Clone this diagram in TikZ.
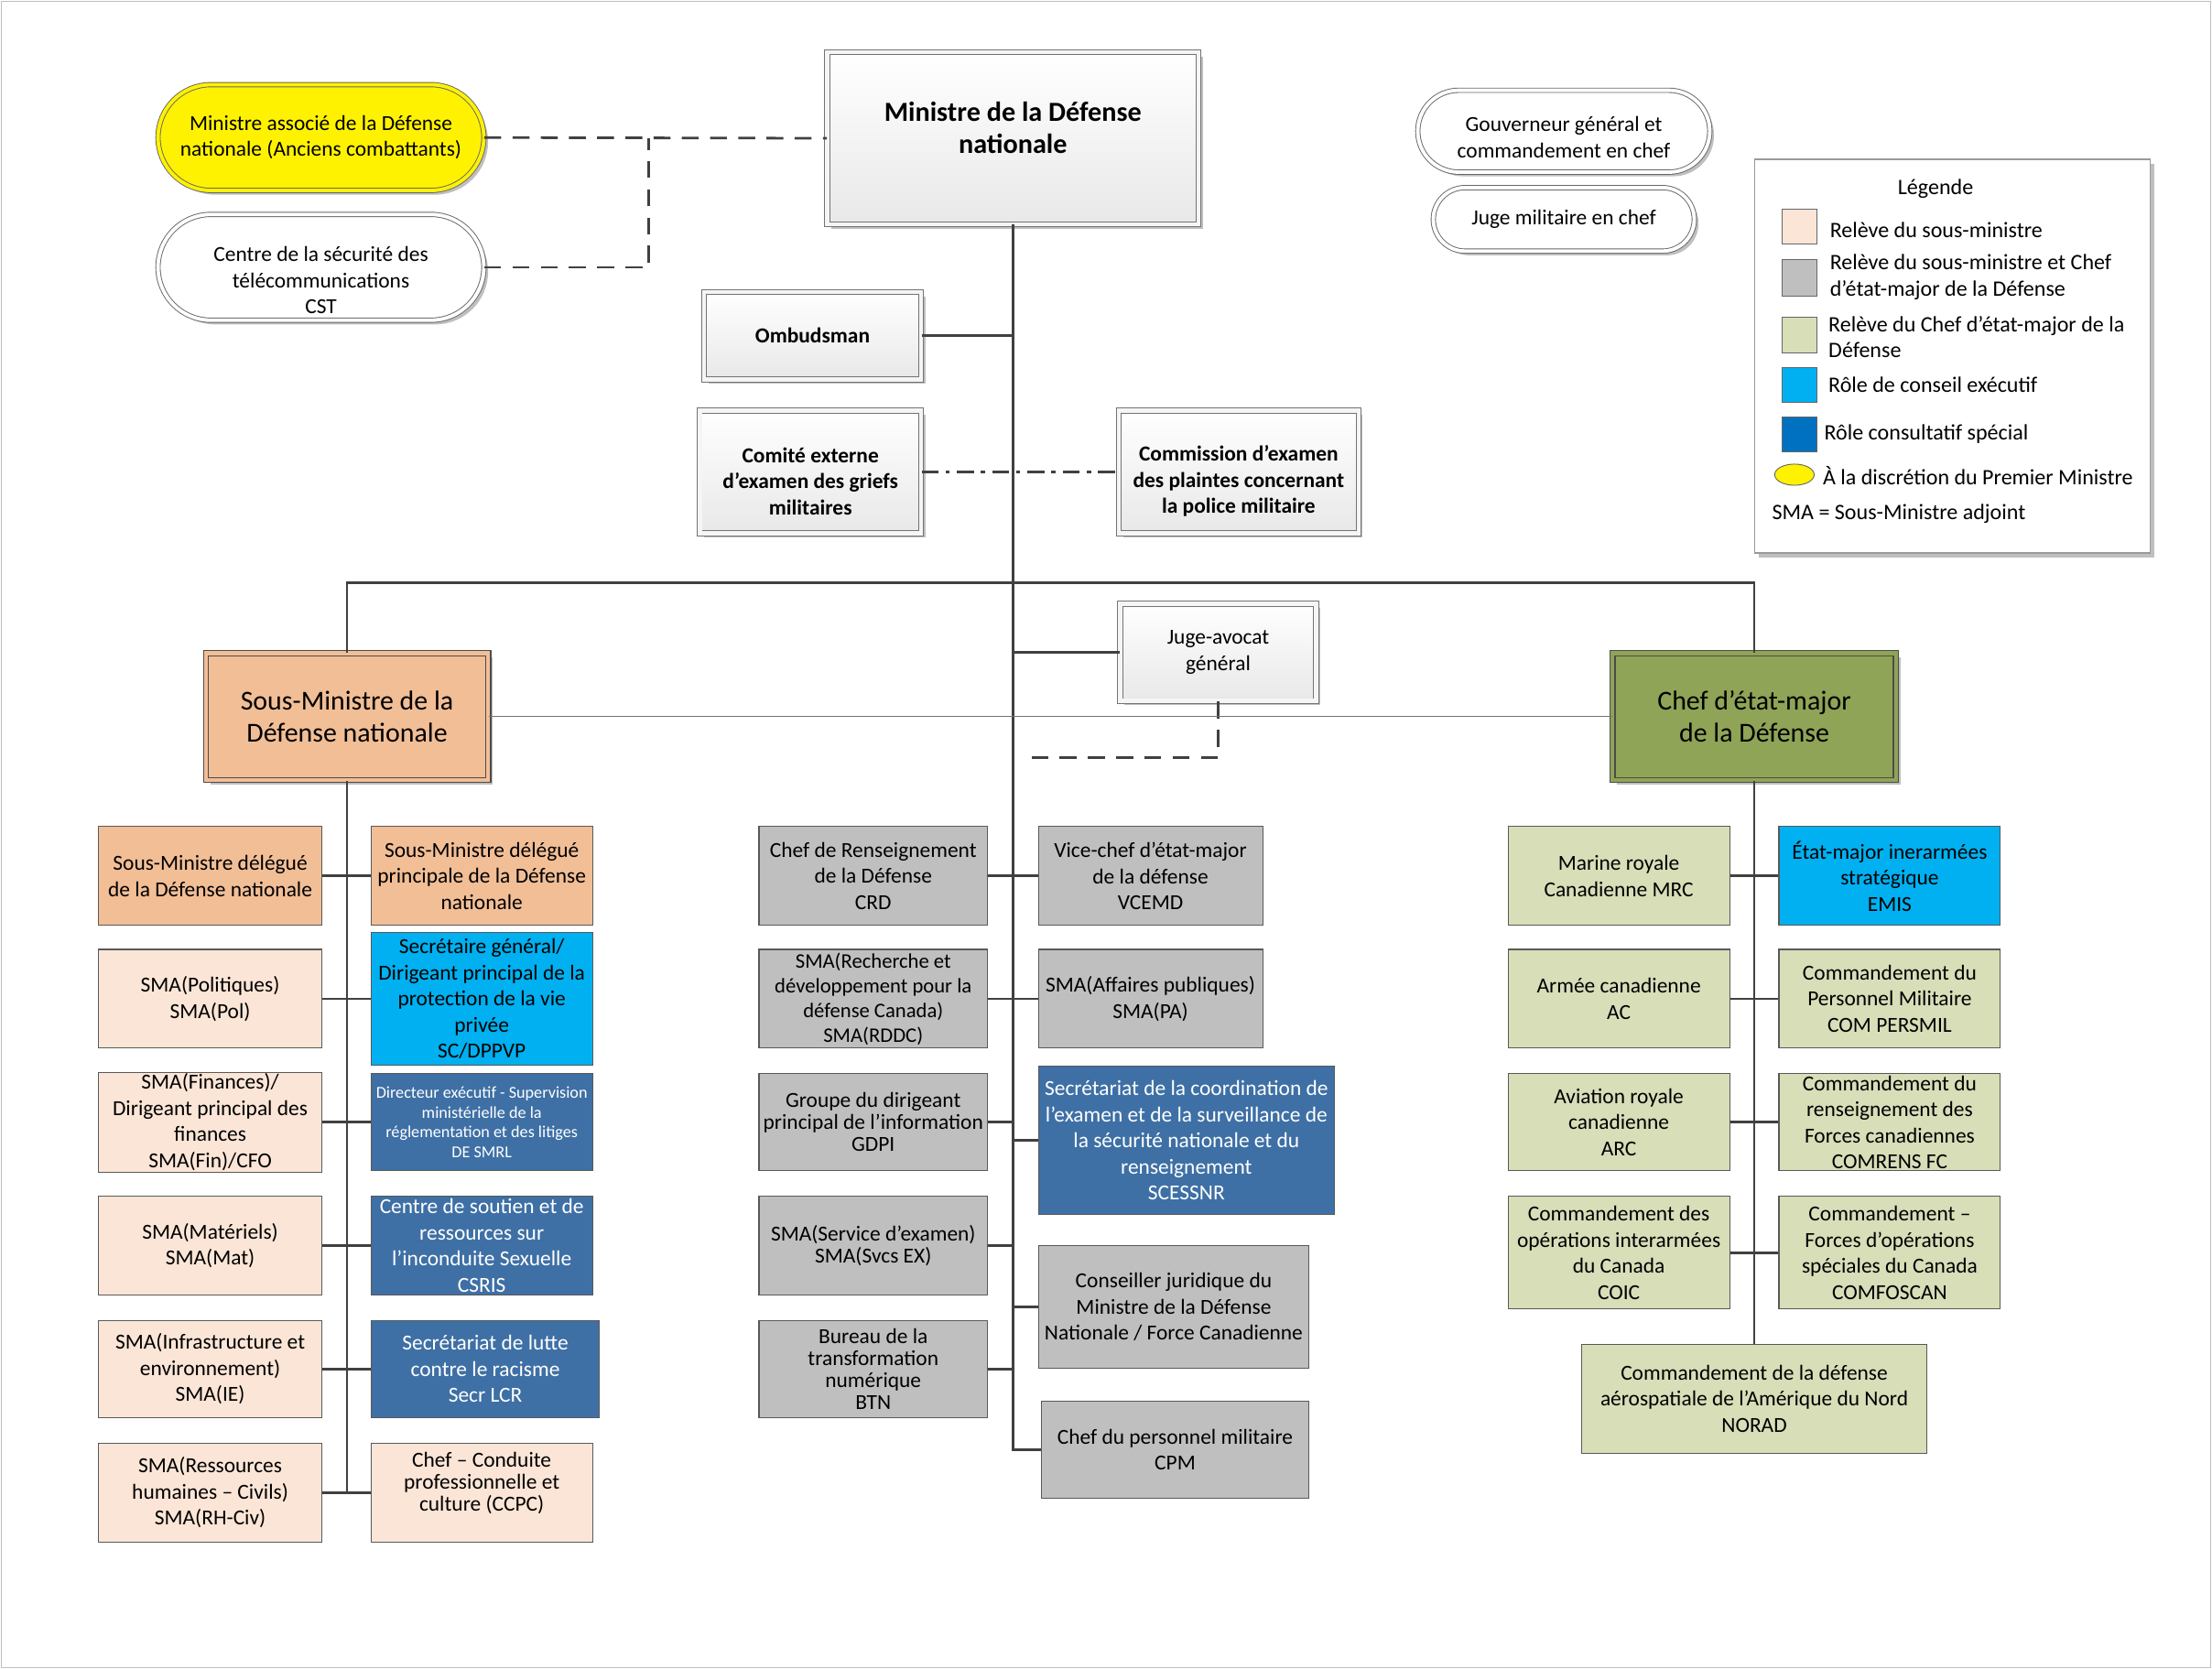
\documentclass[tikz,border=0pt]{standalone}
\usepackage{fontspec}
\setmainfont{Carlito}
\usetikzlibrary{positioning,shapes.misc,shapes.geometric,shadows}
\definecolor{peach}{RGB}{242,190,150}
\definecolor{palepeach}{RGB}{251,229,214}
\definecolor{boxgray}{RGB}{191,191,191}
\definecolor{lightolive}{RGB}{215,222,184}
\definecolor{olive}{RGB}{143,164,86}
\definecolor{execblue}{RGB}{0,176,240}
\definecolor{specblue}{RGB}{62,112,165}
\definecolor{legblue}{RGB}{0,112,192}
\definecolor{linegray}{RGB}{64,64,64}

\begin{document}
\begin{tikzpicture}[
    x=1pt, y=-1pt,
    wh/.style 2 args={minimum width=#1pt, minimum height=#2pt},
    dropsh/.style={drop shadow={shadow xshift=3pt, shadow yshift=-3pt, opacity=0.25, fill=black}},
    box/.style={rectangle, draw=black!65, line width=0.7pt, inner sep=1pt, align=center, font=\fontsize{15.2}{18.5}\selectfont},
    tight/.style={font=\fontsize{15.2}{15.5}\selectfont},
    smbox/.style={box, fill=peach},
    palebox/.style={box, fill=palepeach},
    sharedbox/.style={box, fill=boxgray},
    cafbox/.style={box, fill=lightolive},
    execbox/.style={box, fill=execblue},
    specbox/.style={box, fill=specblue, text=white},
    pill/.style={rounded rectangle, draw=black!60, line width=0.6pt, double=white, double distance=2.5pt, fill=white, dropsh, align=center, inner sep=1pt, font=\fontsize{15.2}{18.5}\selectfont},
    topbox/.style={rectangle, draw=black!55, line width=0.6pt, double=black!4, double distance=3pt, top color=white, bottom color=black!9, dropsh, align=center, inner sep=1pt, font=\bfseries\fontsize{15.2}{18.5}\selectfont},
    headbox/.style={rectangle, draw=black!70, line width=0.7pt, double distance=3pt, dropsh, align=center, inner sep=1pt, font=\fontsize{19.4}{23}\selectfont},
    swatch/.style={rectangle, draw=black!60, line width=0.6pt, inner sep=0pt, wh={25}{25}},
    legtext/.style={anchor=west, align=left, inner sep=0pt, font=\fontsize{15.6}{18.5}\selectfont},
    link/.style={line width=1.8pt, draw=linegray},
    dashline/.style={link, dash pattern=on 12pt off 8pt},
    dashdot/.style={link, dash pattern=on 12pt off 5pt on 3pt off 5pt},
    thinline/.style={line width=0.8pt, draw=black!55}
]
    \useasboundingbox (0,0) rectangle (1568,1183);
    \draw[black!25, line width=1pt] (1,1) rectangle (1567,1182);

    % ---- Ministre ----
    \node[pill, fill=yellow, double=yellow, wh={233}{75}] (mdna) at (227.5,97.5) {Ministre associé de la Défense\\nationale (Anciens combattants)};
    \node[pill, wh={233}{75}] (cst) at (227.5,189.5) {\rule{0pt}{29pt}Centre de la sécurité des\\télécommunications\\CST};
    \node[topbox, wh={263}{122}, font=\bfseries\fontsize{19.6}{23}\selectfont] (min) at (718,98) {Ministre de la Défense\\nationale\\[-8pt]};
    \node[pill, wh={209}{58}] (ggc) at (1108.5,93) {\rule{0pt}{19pt}Gouverneur général et\\commandement en chef};
    \node[pill, wh={187}{45}] (jmc) at (1108.5,155.5) {Juge militaire en chef};
    \node[topbox, wh={154}{62}] (omb) at (576,238) {Ombudsman};
    \node[topbox, wh={157}{87}] (cee) at (574.5,334.5) {\rule{0pt}{24pt}Comité externe\\d’examen des griefs\\militaires};
    \node[topbox, wh={170}{87}] (cepm) at (878,334.5) {\rule{0pt}{24pt}Commission d’examen\\des plaintes concernant\\la police militaire};
    \node[topbox, wh={139}{69}, font=\fontsize{15.2}{18.5}\selectfont] (jag) at (863.5,462.5) {Juge-avocat\\général};
    \node[headbox, fill=peach, double=peach, wh={200}{90}] (smdn) at (246,508) {Sous-Ministre de la\\Défense nationale};
    \node[headbox, fill=olive, double=olive, wh={201}{90}] (cemd) at (1243.5,508) {Chef d’état-major\\de la Défense};

    % ---- Légende ----
    \node[rectangle, draw=black!40, line width=0.8pt, fill=white, dropsh, wh={280}{279}] (lgd) at (1384,252.5) {};
    \node[font=\fontsize{15.6}{18.5}\selectfont] (lgdtitle) at (1372,134) {Légende};
    \node[swatch, fill=palepeach] (sw1) at (1275.5,160.5) {};
    \node[legtext] (lt1) at (1297,163) {Relève du sous-ministre};
    \node[swatch, fill=boxgray, wh={25}{26}] (sw2) at (1275.5,197) {};
    \node[legtext] (lt2) at (1297,196.5) {Relève du sous-ministre et Chef\\d’état-major de la Défense};
    \node[swatch, fill=lightolive] (sw3) at (1275.5,237.5) {};
    \node[legtext] (lt3) at (1296,239) {Relève du Chef d’état-major de la\\Défense};
    \node[swatch, fill=execblue] (sw4) at (1275.5,273) {};
    \node[legtext] (lt4) at (1296,273) {Rôle de conseil exécutif};
    \node[swatch, fill=legblue] (sw5) at (1275.5,308) {};
    \node[legtext] (lt5) at (1293,308) {Rôle consultatif spécial};
    \node[ellipse, draw=black!60, line width=0.6pt, fill=yellow, inner sep=0pt, wh={28}{15}] (sw6) at (1272,336.5) {};
    \node[legtext] (lt6) at (1292,337) {À la discrétion du Premier Ministre};
    \node[legtext] (lt7) at (1256,364) {SMA = Sous-Ministre adjoint};

    % ---- Sous-ministre ----
    \node[smbox, wh={158}{70}] (l1) at (149,621) {Sous-Ministre délégué\\de la Défense nationale};
    \node[smbox, wh={157}{70}] (r1) at (341.5,621) {Sous-Ministre délégué\\principale de la Défense\\nationale};
    \node[palebox, wh={158}{70}] (l2) at (149,708) {SMA(Politiques)\\SMA(Pol)};
    \node[execbox, wh={157}{94}] (r2) at (341.5,708) {Secrétaire général/\\Dirigeant principal de la\\protection de la vie\\privée\\SC/DPPVP};
    \node[palebox, wh={158}{69}] (l3) at (149,795.5) {SMA(Finances)/\\Dirigeant principal des\\finances\\SMA(Fin)/CFO};
    \node[specbox, wh={157}{69}, font=\fontsize{11.8}{14}\selectfont] (r3) at (341.5,795.5) {Directeur exécutif - Supervision\\ministérielle de la\\réglementation et des litiges\\DE SMRL};
    \node[palebox, wh={158}{70}] (l4) at (149,883) {SMA(Matériels)\\SMA(Mat)};
    \node[specbox, wh={157}{70}] (r4) at (341.5,883) {Centre de soutien et de\\ressources sur\\l’inconduite Sexuelle\\CSRIS};
    \node[palebox, wh={158}{69}] (l5) at (149,970.5) {SMA(Infrastructure et\\environnement)\\SMA(IE)};
    \node[specbox, wh={162}{69}] (r5) at (344,970.5) {Secrétariat de lutte\\contre le racisme\\Secr LCR};
    \node[palebox, wh={158}{70}] (l6) at (149,1058) {SMA(Ressources\\humaines – Civils)\\SMA(RH-Civ)};
    \node[palebox, tight, wh={157}{70}] (r6) at (341.5,1058) {Chef – Conduite\\professionnelle et\\culture (CCPC)\\[0pt]};

    % ---- Partagé ----
    \node[sharedbox, wh={162}{70}] (cl1) at (619,621) {Chef de Renseignement\\de la Défense\\CRD};
    \node[sharedbox, wh={159}{70}] (cr1) at (815.5,621) {Vice-chef d’état-major\\de la défense\\VCEMD};
    \node[sharedbox, wh={162}{70}, font=\fontsize{14.7}{17.5}\selectfont] (cl2) at (619,708) {SMA(Recherche et\\développement pour la\\défense Canada)\\SMA(RDDC)};
    \node[sharedbox, wh={159}{70}] (cr2) at (815.5,708) {SMA(Affaires publiques)\\SMA(PA)};
    \node[sharedbox, tight, wh={162}{69}] (cl3) at (619,795.5) {Groupe du dirigeant\\principal de l’information\\GDPI};
    \node[specbox, wh={210}{105}] (cr3) at (841,808.5) {Secrétariat de la coordination de\\l’examen et de la surveillance de\\la sécurité nationale et du\\renseignement\\SCESSNR};
    \node[sharedbox, tight, wh={162}{70}] (cl4) at (619,883) {SMA(Service d’examen)\\SMA(Svcs EX)};
    \node[sharedbox, wh={192}{87}] (cr4) at (832,926.5) {Conseiller juridique du\\Ministre de la Défense\\Nationale / Force Canadienne};
    \node[sharedbox, tight, wh={162}{69}] (cl5) at (619,970.5) {Bureau de la\\transformation\\numérique\\BTN};
    \node[sharedbox, wh={190}{69}] (cpm) at (833,1027.5) {Chef du personnel militaire\\CPM};

    % ---- Forces armées ----
    \node[cafbox, wh={157}{70}] (gl1) at (1147.5,621) {Marine royale\\Canadienne MRC};
    \node[execbox, wh={157}{70}] (gr1) at (1339.5,621) {État-major inerarmées\\stratégique\\EMIS};
    \node[cafbox, wh={157}{70}] (gl2) at (1147.5,708) {Armée canadienne\\AC};
    \node[cafbox, wh={157}{70}] (gr2) at (1339.5,708) {Commandement du\\Personnel Militaire\\COM PERSMIL};
    \node[cafbox, wh={157}{69}] (gl3) at (1147.5,795.5) {Aviation royale\\canadienne\\ARC};
    \node[cafbox, wh={157}{69}] (gr3) at (1339.5,795.5) {Commandement du\\renseignement des\\Forces canadiennes\\COMRENS FC};
    \node[cafbox, wh={157}{80}] (gl4) at (1147.5,888) {Commandement des\\opérations interarmées\\du Canada\\COIC};
    \node[cafbox, wh={157}{80}] (gr4) at (1339.5,888) {Commandement –\\Forces d’opérations\\spéciales du Canada\\COMFOSCAN};
    \node[cafbox, wh={245}{77}] (norad) at (1243.5,991.5) {Commandement de la défense\\aérospatiale de l’Amérique du Nord\\NORAD};

    % ---- liens ----
    \coordinate (spine) at (718,413);
    \coordinate (mjoin) at (460,98);
    \coordinate (jagend) at (725,537);
    \draw[dashline] (mdna.east) -- (min.west);
    \draw[dashline] (cst.east) -| (mjoin);
    \draw[link] (min.south) |- (cpm.west);
    \draw[link] (smdn.north) |- (spine) -| (cemd.north);
    \draw[link] (omb.east) -- (omb.east -| spine);
    \draw[dashdot] (cee.east) -- (cepm.west);
    \draw[link] (jag.west) -- (jag.west -| spine);
    \draw[dashline] (jag.south) |- (jagend);
    \draw[thinline] (smdn.east) -- (cemd.west);

    \draw[link] (smdn.south) -- (smdn.south |- l6.east);
    \foreach \r in {1,...,6}
        \draw[link] (l\r.east) -- (r\r.west);

    \draw[link] (cl1.east) -- (cr1.west);
    \draw[link] (cl2.east) -- (cr2.west);
    \draw[link] (cl3.east) -- (cl3.east -| spine);
    \draw[link] (cr3.west) -- (cr3.west -| spine);
    \draw[link] (cl4.east) -- (cl4.east -| spine);
    \draw[link] (cr4.west) -- (cr4.west -| spine);
    \draw[link] (cl5.east) -- (cl5.east -| spine);

    \draw[link] (cemd.south) -- (norad.north);
    \foreach \r in {1,...,4}
        \draw[link] (gl\r.east) -- (gr\r.west);
\end{tikzpicture}
\end{document}
